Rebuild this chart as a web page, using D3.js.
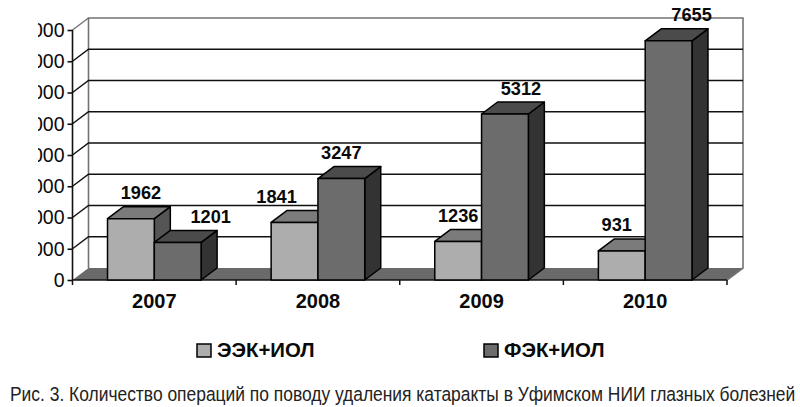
<!DOCTYPE html>
<html><head><meta charset="utf-8">
<script src="https://cdn.jsdelivr.net/npm/d3@7/dist/d3.min.js"></script>
<style>html,body{margin:0;padding:0;background:#fff}svg{display:block}text{font-family:"Liberation Sans",Arial,sans-serif;fill:#0a0a0a}</style>
</head><body><svg id="c" width="800" height="407"></svg>
<script>
const categories=["2007","2008","2009","2010"];
const seriesNames=["ЭЭК+ИОЛ","ФЭК+ИОЛ"];
const eekValues=[1962,1841,1236,931];
const fekValues=[1201,3247,5312,7655];
const yTicks=[0,1000,2000,3000,4000,5000,6000,7000,8000];
const labelDxEek=[10,-18,0,-5];
const labelDxFek=[33,0,16,23];
const caption="Рис. 3. Количество операций по поводу удаления катаракты в Уфимском НИИ глазных болезней";

const dx=16,dy=-12,L=72.5,R=727,B=280,T=30;
const svg=d3.select("#c");
const y=d3.scaleLinear().domain([0,8000]).range([B,T]);
const x0=d3.scaleBand().domain(categories).range([L,R]);
const bw=x0.bandwidth();
const x1=d3.scaleBand().domain([0,1]).range([bw*0.214,bw*0.786]);
const pts=a=>a.map(p=>p.join(",")).join(" ");

// floor
svg.append("polygon").attr("points",pts([[L,B],[L+dx,B+dy],[R+dx,B+dy],[R,B]])).attr("fill","#6a6a6a");
// walls
svg.append("path").attr("d",`M${L+dx},${B+dy}V${T+dy}H${R+dx}V${B+dy}L${R},${B}`).attr("fill","none").attr("stroke","#737373").attr("stroke-width",1.6);
svg.append("line").attr("x1",L).attr("y1",T).attr("x2",L+dx).attr("y2",T+dy).attr("stroke","#737373").attr("stroke-width",1.4);
// gridlines
yTicks.filter(v=>v>0&&v<8000).forEach(v=>{
  svg.append("path").attr("d",`M${L},${y(v)}L${L+dx},${y(v)+dy}H${R+dx}`).attr("fill","none").attr("stroke","#111").attr("stroke-width",1.5);
});
// axes
const clipId="yclip";
svg.append("clipPath").attr("id",clipId).append("rect").attr("x",38-L).attr("y",0).attr("width",60).attr("height",300);
const ya=svg.append("g").attr("transform",`translate(${L},0)`).attr("clip-path",`url(#${clipId})`)
  .call(d3.axisLeft(y).tickValues(yTicks).tickSize(5).tickPadding(3).tickFormat(d3.format("d")));
ya.selectAll("text").style("font-size","19.5px").style("font-family",'"Liberation Sans"').attr("fill","#0a0a0a");
ya.selectAll("line,path").attr("stroke","#111").attr("stroke-width",1.6);
ya.select(".domain").attr("d",`M0,${T}V${B}`);
const xa=svg.append("g").attr("transform",`translate(0,${B})`)
  .call(d3.axisBottom(x0).tickSize(0).tickPadding(14));
xa.selectAll("text").style("font-size","20px").style("font-weight","700").style("font-family",'"Liberation Sans"').attr("fill","#0a0a0a");
xa.select(".domain").attr("d",`M${L},0H${R}`).attr("stroke","#111").attr("stroke-width",1.6);
[...categories.map(c=>x0(c)),R].forEach(x=>{
  svg.append("line").attr("x1",x).attr("x2",x).attr("y1",B).attr("y2",B+5).attr("stroke","#111").attr("stroke-width",1.5);
});
// bars
const styles=[{f:"#adadad",t:"#7b7b7b",s:"#555"},{f:"#6c6c6c",t:"#4b4b4b",s:"#333"}];
[eekValues,fekValues].forEach((vals,si)=>{
  vals.forEach((v,i)=>{
    const xl=x0(categories[i])+x1(si),w=x1.bandwidth(),yt=y(v),st=styles[si];
    const g=svg.append("g").attr("stroke","#000").attr("stroke-width",1.5).attr("stroke-linejoin","round");
    g.append("polygon").attr("points",pts([[xl+w,yt],[xl+w+dx,yt+dy],[xl+w+dx,B+dy],[xl+w,B]])).attr("fill",st.s);
    g.append("polygon").attr("points",pts([[xl,yt],[xl+dx,yt+dy],[xl+w+dx,yt+dy],[xl+w,yt]])).attr("fill",st.t);
    g.append("rect").attr("x",xl).attr("y",yt).attr("width",w).attr("height",B-yt).attr("fill",st.f);
  });
});
// data labels
[[eekValues,labelDxEek],[fekValues,labelDxFek]].forEach(([vals,off],si)=>{
  vals.forEach((v,i)=>{
    svg.append("text").attr("x",x0(categories[i])+x1(si)+x1.bandwidth()/2+off[i]).attr("y",y(v)-19.5)
      .attr("text-anchor","middle").style("font-size","18.2px").style("font-weight","700").text(v);
  });
});
// legend
[197,484].forEach((lx,i)=>{
  svg.append("rect").attr("x",lx).attr("y",344).attr("width",14).attr("height",13).attr("fill",styles[i].f).attr("stroke","#000").attr("stroke-width",1.5);
  svg.append("text").attr("x",lx+20).attr("y",357).style("font-size","20.4px").style("font-weight","700").text(seriesNames[i]);
});
// caption
const cap=svg.append("text").attr("transform","translate(10,401) scale(0.87,1)")
  .style("font-size","20.5px").style("fill","#222").text(caption);
const w0=cap.node().getComputedTextLength();
cap.attr("transform",`translate(10,401) scale(${785/w0},1)`);
</script></body></html>
